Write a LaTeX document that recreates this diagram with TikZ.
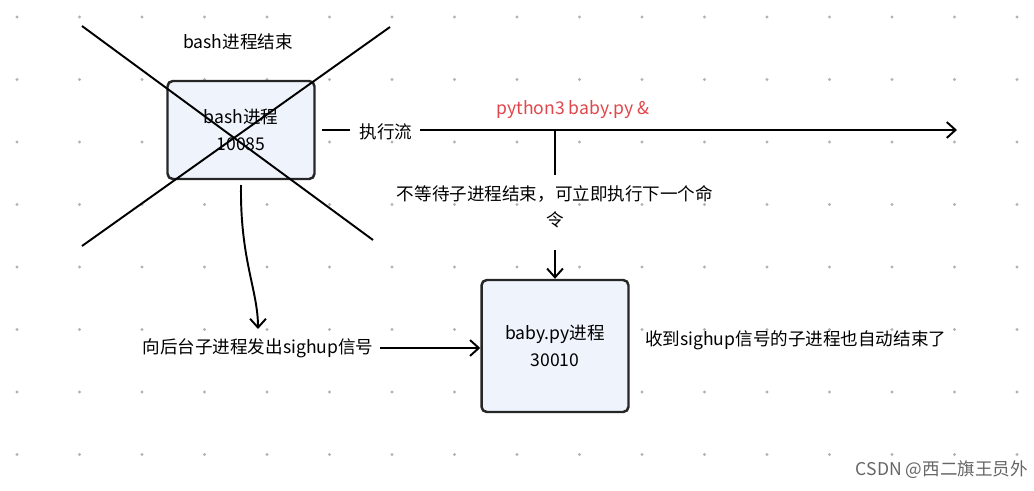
\documentclass[tikz,border=0pt]{standalone}
\usepackage{fontspec}
\setmainfont{Noto Sans CJK SC}
\usetikzlibrary{arrows.meta}
\definecolor{boxfill}{HTML}{EEF3FC}
\definecolor{redtxt}{HTML}{E0464A}
\begin{document}
\begin{tikzpicture}[x=0.02cm,y=-0.02cm,
  proc/.style={draw=black!85,line width=1.4pt,rounded corners=3pt,fill=boxfill,align=center,font=\fontsize{10}{15}\selectfont},
  lbl/.style={font=\fontsize{10}{15}\selectfont,align=center,inner sep=1pt},
  ln/.style={line width=1.1pt,black},
  arr/.style={ln,-{Straight Barb[length=5pt,width=9pt]}}]
\useasboundingbox (0,0) rectangle (1034,490);
\foreach \i in {0,...,16}{\foreach \j in {0,...,7}{
  \fill[black!30] (17+62.5*\i,17+62.5*\j) circle (0.9pt);}}
\node[proc,minimum width=2.94cm,minimum height=1.96cm] (bash) at (241,130) {bash进程\\10085};
\node[proc,minimum width=2.94cm,minimum height=2.64cm] (baby) at (555,346) {baby.py进程\\30010};
\coordinate (x1) at (82,26); \coordinate (x2) at (373,240);
\coordinate (x3) at (390,27); \coordinate (x4) at (82,246);
\draw[ln] (x1) -- (x2); \draw[ln] (x3) -- (x4);
\node[lbl] (end) at (238,42) {bash进程结束};
\node[lbl] (flow) at (386,132) {执行流};
\coordinate (f0) at (322,130); \coordinate (f1) at (350,130);
\coordinate (f2) at (420,130); \coordinate (f3) at (957,130);
\draw[ln] (f0) -- (f1); \draw[arr] (f2) -- (f3);
\node[lbl,text=redtxt] (py) at (573,110) {python3 baby.py \&};
\coordinate (v0) at (555,130); \coordinate (v1) at (555,175);
\draw[ln] (v0) -- (v1);
\node[lbl] (wait) at (555,207) {不等待子进程结束，可立即执行下一个命\\令};
\coordinate (v2) at (555,250);
\draw[arr] (v2) -- (baby.north);
\node[lbl] (send) at (258,348) {向后台子进程发出sighup信号};
\coordinate (c0) at (241,185); \coordinate (c1) at (258,329);
\draw[arr] (c0) .. controls (240,260) and (258,290) .. (c1);
\coordinate (s0) at (380,348);
\draw[arr] (s0) -- (baby.west |- s0);
\node[lbl,anchor=west] (recv) at (643,340) {收到sighup信号的子进程也自动结束了};
\node[lbl,text=black!60,font=\fontsize{10}{12}\selectfont,anchor=east] (csdn) at (1030,470) {CSDN @西二旗王员外};
\end{tikzpicture}
\end{document}
